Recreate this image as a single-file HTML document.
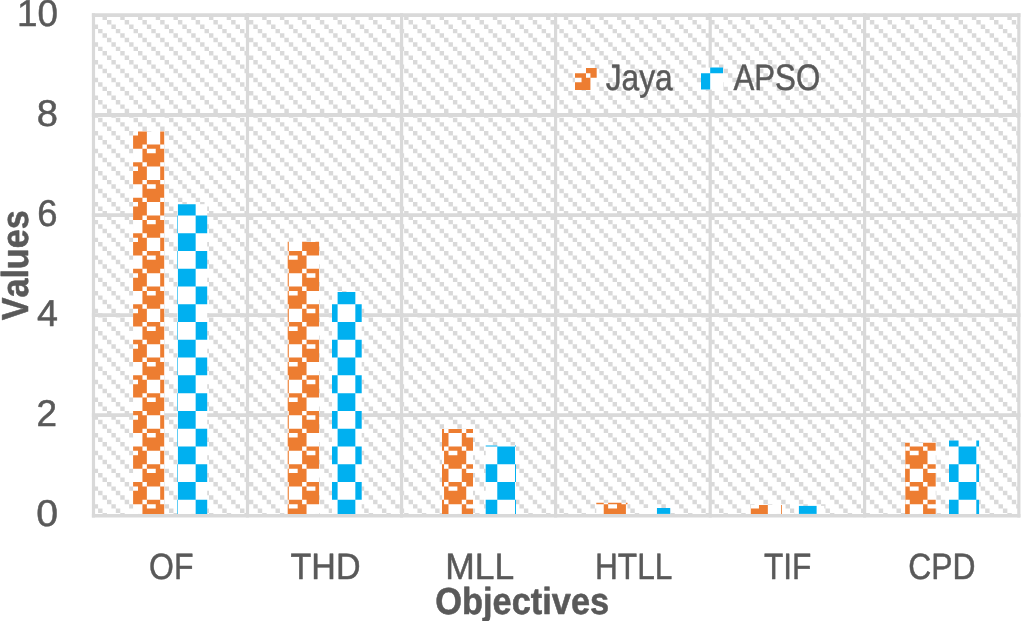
<!DOCTYPE html>
<html lang="en"><head><meta charset="utf-8"><title>Jaya vs APSO objectives chart</title>
<style>html,body{margin:0;padding:0;background:#fff;overflow:hidden}svg{display:block}text{font-family:"Liberation Sans",Arial,sans-serif;fill:#595959;font-kerning:none;text-rendering:geometricPrecision}</style></head><body>
<svg xmlns="http://www.w3.org/2000/svg" width="1023" height="621" viewBox="0 0 1023 621">
<rect width="1023" height="621" fill="#fff"/>
<defs><clipPath id="pc"><rect x="93.5" y="15.2" width="925.4" height="500.2"/></clipPath></defs>
<g clip-path="url(#pc)" stroke="#d9d9d9" stroke-width="4.442" stroke-dasharray="4.4355 13.3065" fill="none">
<path d="M58.161 8.895H1023M62.597 13.337H1023M67.032 17.779H1023M71.468 22.221H1023M58.161 26.663H1023M62.597 31.105H1023M67.032 35.547H1023M71.468 39.989H1023M58.161 44.431H1023M62.597 48.873H1023M67.032 53.315H1023M71.468 57.757H1023M58.161 62.199H1023M62.597 66.641H1023M67.032 71.083H1023M71.468 75.525H1023M58.161 79.967H1023M62.597 84.409H1023M67.032 88.851H1023M71.468 93.293H1023M58.161 97.735H1023M62.597 102.177H1023M67.032 106.619H1023M71.468 111.061H1023M58.161 115.503H1023M62.597 119.945H1023M67.032 124.387H1023M71.468 128.829H1023M58.161 133.271H1023M62.597 137.713H1023M67.032 142.155H1023M71.468 146.597H1023M58.161 151.039H1023M62.597 155.481H1023M67.032 159.923H1023M71.468 164.365H1023M58.161 168.807H1023M62.597 173.249H1023M67.032 177.691H1023M71.468 182.133H1023M58.161 186.575H1023M62.597 191.017H1023M67.032 195.459H1023M71.468 199.901H1023M58.161 204.343H1023M62.597 208.785H1023M67.032 213.227H1023M71.468 217.669H1023M58.161 222.111H1023M62.597 226.553H1023M67.032 230.995H1023M71.468 235.437H1023M58.161 239.879H1023M62.597 244.321H1023M67.032 248.763H1023M71.468 253.205H1023M58.161 257.647H1023M62.597 262.089H1023M67.032 266.531H1023M71.468 270.973H1023M58.161 275.415H1023M62.597 279.857H1023M67.032 284.299H1023M71.468 288.741H1023M58.161 293.183H1023M62.597 297.625H1023M67.032 302.067H1023M71.468 306.509H1023M58.161 310.951H1023M62.597 315.393H1023M67.032 319.835H1023M71.468 324.277H1023M58.161 328.719H1023M62.597 333.161H1023M67.032 337.603H1023M71.468 342.045H1023M58.161 346.487H1023M62.597 350.929H1023M67.032 355.371H1023M71.468 359.813H1023M58.161 364.255H1023M62.597 368.697H1023M67.032 373.139H1023M71.468 377.581H1023M58.161 382.023H1023M62.597 386.465H1023M67.032 390.907H1023M71.468 395.349H1023M58.161 399.791H1023M62.597 404.233H1023M67.032 408.675H1023M71.468 413.117H1023M58.161 417.559H1023M62.597 422.001H1023M67.032 426.443H1023M71.468 430.885H1023M58.161 435.327H1023M62.597 439.769H1023M67.032 444.211H1023M71.468 448.653H1023M58.161 453.095H1023M62.597 457.537H1023M67.032 461.979H1023M71.468 466.421H1023M58.161 470.863H1023M62.597 475.305H1023M67.032 479.747H1023M71.468 484.189H1023M58.161 488.631H1023M62.597 493.073H1023M67.032 497.515H1023M71.468 501.957H1023M58.161 506.399H1023M62.597 510.841H1023M67.032 515.283H1023M71.468 519.725H1023M58.161 524.167H1023"/>
</g>
<path d="M91.9 15.15H1020.45M91.9 115H1020.45M91.9 215.05H1020.45M91.9 315.05H1020.45M91.9 415.1H1020.45" stroke="#d9d9d9" stroke-width="3.8" fill="none"/>
<path d="M93.5 13.25V517.4M247.5 13.25V517.4M401.6 13.25V517.4M555.6 13.25V517.4M710.2 13.25V517.4M864.6 13.25V517.4M1018.85 13.25V517.4" stroke="#d9d9d9" stroke-width="3.2" fill="none"/>
<rect x="133.1" y="131.6" width="31.1" height="382.3" fill="#fff"/><path d="M138 131.6H142.44V144.38H138ZM133.1 135.49H138V144.38H133.1ZM133.1 144.38H142.44V148.82H133.1ZM142.44 131.6H146.87V144.38H142.44ZM160.18 131.6H164.2V144.38H160.18ZM146.87 144.38H160.18V148.82H146.87ZM142.44 148.82H146.87V162.14H142.44ZM155.74 148.82H164.2V162.14H155.74ZM146.87 153.26H155.74V162.14H146.87ZM133.1 162.14H142.44V166.59H133.1ZM138 166.59H142.44V179.91H138ZM133.1 171.03H138V179.91H133.1ZM133.1 179.91H142.44V184.35H133.1ZM146.87 162.14H160.18V166.59H146.87ZM142.44 166.59H146.87V179.91H142.44ZM160.18 166.59H164.2V179.91H160.18ZM146.87 179.91H160.18V184.35H146.87ZM142.44 184.35H146.87V197.68H142.44ZM155.74 184.35H164.2V197.68H155.74ZM146.87 188.8H155.74V197.68H146.87ZM133.1 197.68H142.44V202.12H133.1ZM138 202.12H142.44V215.45H138ZM133.1 206.56H138V215.45H133.1ZM133.1 215.45H142.44V219.89H133.1ZM146.87 197.68H160.18V202.12H146.87ZM142.44 202.12H146.87V215.45H142.44ZM160.18 202.12H164.2V215.45H160.18ZM146.87 215.45H160.18V219.89H146.87ZM142.44 219.89H146.87V233.22H142.44ZM155.74 219.89H164.2V233.22H155.74ZM146.87 224.33H155.74V233.22H146.87ZM133.1 233.22H142.44V237.66H133.1ZM138 237.66H142.44V250.98H138ZM133.1 242.1H138V250.98H133.1ZM133.1 250.98H142.44V255.43H133.1ZM146.87 233.22H160.18V237.66H146.87ZM142.44 237.66H146.87V250.98H142.44ZM160.18 237.66H164.2V250.98H160.18ZM146.87 250.98H160.18V255.43H146.87ZM142.44 255.43H146.87V268.75H142.44ZM155.74 255.43H164.2V268.75H155.74ZM146.87 259.87H155.74V268.75H146.87ZM133.1 268.75H142.44V273.19H133.1ZM138 273.19H142.44V286.52H138ZM133.1 277.64H138V286.52H133.1ZM133.1 286.52H142.44V290.96H133.1ZM146.87 268.75H160.18V273.19H146.87ZM142.44 273.19H146.87V286.52H142.44ZM160.18 273.19H164.2V286.52H160.18ZM146.87 286.52H160.18V290.96H146.87ZM142.44 290.96H146.87V304.29H142.44ZM155.74 290.96H164.2V304.29H155.74ZM146.87 295.4H155.74V304.29H146.87ZM133.1 304.29H142.44V308.73H133.1ZM138 308.73H142.44V322.06H138ZM133.1 313.17H138V322.06H133.1ZM133.1 322.06H142.44V326.5H133.1ZM146.87 304.29H160.18V308.73H146.87ZM142.44 308.73H146.87V322.06H142.44ZM160.18 308.73H164.2V322.06H160.18ZM146.87 322.06H160.18V326.5H146.87ZM142.44 326.5H146.87V339.82H142.44ZM155.74 326.5H164.2V339.82H155.74ZM146.87 330.94H155.74V339.82H146.87ZM133.1 339.82H142.44V344.27H133.1ZM138 344.27H142.44V357.59H138ZM133.1 348.71H138V357.59H133.1ZM133.1 357.59H142.44V362.03H133.1ZM146.87 339.82H160.18V344.27H146.87ZM142.44 344.27H146.87V357.59H142.44ZM160.18 344.27H164.2V357.59H160.18ZM146.87 357.59H160.18V362.03H146.87ZM142.44 362.03H146.87V375.36H142.44ZM155.74 362.03H164.2V375.36H155.74ZM146.87 366.48H155.74V375.36H146.87ZM133.1 375.36H142.44V379.8H133.1ZM138 379.8H142.44V393.13H138ZM133.1 384.24H138V393.13H133.1ZM133.1 393.13H142.44V397.57H133.1ZM146.87 375.36H160.18V379.8H146.87ZM142.44 379.8H146.87V393.13H142.44ZM160.18 379.8H164.2V393.13H160.18ZM146.87 393.13H160.18V397.57H146.87ZM142.44 397.57H146.87V410.9H142.44ZM155.74 397.57H164.2V410.9H155.74ZM146.87 402.01H155.74V410.9H146.87ZM133.1 410.9H142.44V415.34H133.1ZM138 415.34H142.44V428.66H138ZM133.1 419.78H138V428.66H133.1ZM133.1 428.66H142.44V433.11H133.1ZM146.87 410.9H160.18V415.34H146.87ZM142.44 415.34H146.87V428.66H142.44ZM160.18 415.34H164.2V428.66H160.18ZM146.87 428.66H160.18V433.11H146.87ZM142.44 433.11H146.87V446.43H142.44ZM155.74 433.11H164.2V446.43H155.74ZM146.87 437.55H155.74V446.43H146.87ZM133.1 446.43H142.44V450.87H133.1ZM138 450.87H142.44V464.2H138ZM133.1 455.32H138V464.2H133.1ZM133.1 464.2H142.44V468.64H133.1ZM146.87 446.43H160.18V450.87H146.87ZM142.44 450.87H146.87V464.2H142.44ZM160.18 450.87H164.2V464.2H160.18ZM146.87 464.2H160.18V468.64H146.87ZM142.44 468.64H146.87V481.97H142.44ZM155.74 468.64H164.2V481.97H155.74ZM146.87 473.08H155.74V481.97H146.87ZM133.1 481.97H142.44V486.41H133.1ZM138 486.41H142.44V499.74H138ZM133.1 490.85H138V499.74H133.1ZM133.1 499.74H142.44V504.18H133.1ZM146.87 481.97H160.18V486.41H146.87ZM142.44 486.41H146.87V499.74H142.44ZM160.18 486.41H164.2V499.74H160.18ZM146.87 499.74H160.18V504.18H146.87ZM142.44 504.18H146.87V513.9H142.44ZM155.74 504.18H164.2V513.9H155.74ZM146.87 508.62H155.74V513.9H146.87Z" fill="#ed7d31"/>
<rect x="177.3" y="204.2" width="29.9" height="309.7" fill="#fff"/><path d="M177.3 215.45H177.92V233.22H177.3ZM177.92 204.2H195.66V215.45H177.92ZM195.66 215.45H207.2V233.22H195.66ZM177.3 250.98H177.92V268.75H177.3ZM177.92 233.22H195.66V250.98H177.92ZM195.66 250.98H207.2V268.75H195.66ZM177.3 286.52H177.92V304.29H177.3ZM177.92 268.75H195.66V286.52H177.92ZM195.66 286.52H207.2V304.29H195.66ZM177.3 322.06H177.92V339.82H177.3ZM177.92 304.29H195.66V322.06H177.92ZM195.66 322.06H207.2V339.82H195.66ZM177.3 357.59H177.92V375.36H177.3ZM177.92 339.82H195.66V357.59H177.92ZM195.66 357.59H207.2V375.36H195.66ZM177.3 393.13H177.92V410.9H177.3ZM177.92 375.36H195.66V393.13H177.92ZM195.66 393.13H207.2V410.9H195.66ZM177.3 428.66H177.92V446.43H177.3ZM177.92 410.9H195.66V428.66H177.92ZM195.66 428.66H207.2V446.43H195.66ZM177.3 464.2H177.92V481.97H177.3ZM177.92 446.43H195.66V464.2H177.92ZM195.66 464.2H207.2V481.97H195.66ZM177.3 499.74H177.92V513.9H177.3ZM177.92 481.97H195.66V499.74H177.92ZM195.66 499.74H207.2V513.9H195.66Z" fill="#00b0f0"/>
<rect x="287.7" y="241.7" width="31.4" height="272.2" fill="#fff"/><path d="M287.7 241.7H288.81V250.98H287.7ZM302.11 241.7H306.55V250.98H302.11ZM315.42 241.7H319.1V250.98H315.42ZM306.55 242.1H315.42V250.98H306.55ZM288.81 250.98H302.11V255.43H288.81ZM306.55 250.98H319.1V255.43H306.55ZM287.7 255.43H288.81V268.75H287.7ZM297.68 255.43H306.55V268.75H297.68ZM288.81 259.87H297.68V268.75H288.81ZM288.81 268.75H302.11V273.19H288.81ZM306.55 268.75H319.1V273.19H306.55ZM287.7 273.19H288.81V286.52H287.7ZM302.11 273.19H306.55V286.52H302.11ZM315.42 273.19H319.1V286.52H315.42ZM306.55 277.64H315.42V286.52H306.55ZM288.81 286.52H302.11V290.96H288.81ZM306.55 286.52H319.1V290.96H306.55ZM287.7 290.96H288.81V304.29H287.7ZM297.68 290.96H306.55V304.29H297.68ZM288.81 295.4H297.68V304.29H288.81ZM288.81 304.29H302.11V308.73H288.81ZM306.55 304.29H319.1V308.73H306.55ZM287.7 308.73H288.81V322.06H287.7ZM302.11 308.73H306.55V322.06H302.11ZM315.42 308.73H319.1V322.06H315.42ZM306.55 313.17H315.42V322.06H306.55ZM288.81 322.06H302.11V326.5H288.81ZM306.55 322.06H319.1V326.5H306.55ZM287.7 326.5H288.81V339.82H287.7ZM297.68 326.5H306.55V339.82H297.68ZM288.81 330.94H297.68V339.82H288.81ZM288.81 339.82H302.11V344.27H288.81ZM306.55 339.82H319.1V344.27H306.55ZM287.7 344.27H288.81V357.59H287.7ZM302.11 344.27H306.55V357.59H302.11ZM315.42 344.27H319.1V357.59H315.42ZM306.55 348.71H315.42V357.59H306.55ZM288.81 357.59H302.11V362.03H288.81ZM306.55 357.59H319.1V362.03H306.55ZM287.7 362.03H288.81V375.36H287.7ZM297.68 362.03H306.55V375.36H297.68ZM288.81 366.48H297.68V375.36H288.81ZM288.81 375.36H302.11V379.8H288.81ZM306.55 375.36H319.1V379.8H306.55ZM287.7 379.8H288.81V393.13H287.7ZM302.11 379.8H306.55V393.13H302.11ZM315.42 379.8H319.1V393.13H315.42ZM306.55 384.24H315.42V393.13H306.55ZM288.81 393.13H302.11V397.57H288.81ZM306.55 393.13H319.1V397.57H306.55ZM287.7 397.57H288.81V410.9H287.7ZM297.68 397.57H306.55V410.9H297.68ZM288.81 402.01H297.68V410.9H288.81ZM288.81 410.9H302.11V415.34H288.81ZM306.55 410.9H319.1V415.34H306.55ZM287.7 415.34H288.81V428.66H287.7ZM302.11 415.34H306.55V428.66H302.11ZM315.42 415.34H319.1V428.66H315.42ZM306.55 419.78H315.42V428.66H306.55ZM288.81 428.66H302.11V433.11H288.81ZM306.55 428.66H319.1V433.11H306.55ZM287.7 433.11H288.81V446.43H287.7ZM297.68 433.11H306.55V446.43H297.68ZM288.81 437.55H297.68V446.43H288.81ZM288.81 446.43H302.11V450.87H288.81ZM306.55 446.43H319.1V450.87H306.55ZM287.7 450.87H288.81V464.2H287.7ZM302.11 450.87H306.55V464.2H302.11ZM315.42 450.87H319.1V464.2H315.42ZM306.55 455.32H315.42V464.2H306.55ZM288.81 464.2H302.11V468.64H288.81ZM306.55 464.2H319.1V468.64H306.55ZM287.7 468.64H288.81V481.97H287.7ZM297.68 468.64H306.55V481.97H297.68ZM288.81 473.08H297.68V481.97H288.81ZM288.81 481.97H302.11V486.41H288.81ZM306.55 481.97H319.1V486.41H306.55ZM287.7 486.41H288.81V499.74H287.7ZM302.11 486.41H306.55V499.74H302.11ZM315.42 486.41H319.1V499.74H315.42ZM306.55 490.85H315.42V499.74H306.55ZM288.81 499.74H302.11V504.18H288.81ZM306.55 499.74H319.1V504.18H306.55ZM287.7 504.18H288.81V513.9H287.7ZM297.68 504.18H306.55V513.9H297.68ZM288.81 508.62H297.68V513.9H288.81Z" fill="#ed7d31"/>
<rect x="332" y="292" width="29.7" height="221.9" fill="#fff"/><path d="M337.6 292H355.34V304.29H337.6ZM332 304.29H337.6V322.06H332ZM337.6 322.06H355.34V339.82H337.6ZM355.34 304.29H361.7V322.06H355.34ZM332 339.82H337.6V357.59H332ZM337.6 357.59H355.34V375.36H337.6ZM355.34 339.82H361.7V357.59H355.34ZM332 375.36H337.6V393.13H332ZM337.6 393.13H355.34V410.9H337.6ZM355.34 375.36H361.7V393.13H355.34ZM332 410.9H337.6V428.66H332ZM337.6 428.66H355.34V446.43H337.6ZM355.34 410.9H361.7V428.66H355.34ZM332 446.43H337.6V464.2H332ZM337.6 464.2H355.34V481.97H337.6ZM355.34 446.43H361.7V464.2H355.34ZM332 481.97H337.6V499.74H332ZM337.6 499.74H355.34V513.9H337.6ZM355.34 481.97H361.7V499.74H355.34Z" fill="#00b0f0"/>
<rect x="442" y="428.9" width="31" height="85" fill="#fff"/><path d="M442 428.9H444.05V433.11H442ZM448.49 428.9H461.79V433.11H448.49ZM442 433.11H448.49V446.43H442ZM466.23 428.9H473V433.11H466.23ZM461.79 433.11H466.23V446.43H461.79ZM466.23 437.55H473V446.43H466.23ZM442 446.43H444.05V450.87H442ZM448.49 446.43H461.79V450.87H448.49ZM444.05 450.87H448.49V464.2H444.05ZM457.36 450.87H461.79V464.2H457.36ZM448.49 455.32H457.36V464.2H448.49ZM442 464.2H444.05V468.64H442ZM448.49 464.2H461.79V468.64H448.49ZM442 468.64H448.49V481.97H442ZM466.23 446.43H473V450.87H466.23ZM461.79 450.87H466.23V464.2H461.79ZM466.23 464.2H473V468.64H466.23ZM461.79 468.64H466.23V481.97H461.79ZM466.23 473.08H473V481.97H466.23ZM442 481.97H444.05V486.41H442ZM448.49 481.97H461.79V486.41H448.49ZM444.05 486.41H448.49V499.74H444.05ZM457.36 486.41H461.79V499.74H457.36ZM448.49 490.85H457.36V499.74H448.49ZM442 499.74H444.05V504.18H442ZM448.49 499.74H461.79V504.18H448.49ZM442 504.18H448.49V513.9H442ZM466.23 481.97H473V486.41H466.23ZM461.79 486.41H466.23V499.74H461.79ZM466.23 499.74H473V504.18H466.23ZM461.79 504.18H466.23V513.9H461.79ZM466.23 508.62H473V513.9H466.23Z" fill="#ed7d31"/>
<rect x="485.7" y="445.4" width="30.3" height="68.5" fill="#fff"/><path d="M485.7 445.4H497.28V446.43H485.7ZM515.02 445.4H516V446.43H515.02ZM485.7 464.2H497.28V481.97H485.7ZM497.28 446.43H515.02V464.2H497.28ZM515.02 464.2H516V481.97H515.02ZM485.7 499.74H497.28V513.9H485.7ZM497.28 481.97H515.02V499.74H497.28ZM515.02 499.74H516V513.9H515.02Z" fill="#00b0f0"/>
<rect x="596.3" y="502.8" width="31.2" height="11.1" fill="#fff"/><path d="M596.3 502.8H603.73V504.18H596.3ZM608.16 502.8H621.47V504.18H608.16ZM625.91 502.8H627.5V504.18H625.91ZM603.73 504.18H608.16V513.9H603.73ZM617.03 504.18H625.91V513.9H617.03ZM608.16 508.62H617.03V513.9H608.16Z" fill="#ed7d31"/>
<rect x="640" y="508" width="30.2" height="5.9" fill="#fff"/><path d="M656.95 508H670.2V513.9H656.95Z" fill="#00b0f0"/>
<rect x="750.8" y="504.9" width="31.2" height="9" fill="#fff"/><path d="M758.97 504.9H767.84V513.9H758.97ZM750.8 508.62H758.97V513.9H750.8ZM781.15 504.9H782V513.9H781.15Z" fill="#ed7d31"/>
<rect x="794.4" y="505.9" width="29.9" height="8" fill="#fff"/><path d="M798.89 505.9H816.63V513.9H798.89Z" fill="#00b0f0"/>
<rect x="905.1" y="442.85" width="30.6" height="71.05" fill="#fff"/><path d="M905.1 442.85H909.78V446.43H905.1ZM923.08 442.85H927.52V446.43H923.08ZM927.52 442.85H935.7V446.43H927.52ZM905.1 446.43H905.34V450.87H905.1ZM909.78 446.43H923.08V450.87H909.78ZM905.34 450.87H909.78V464.2H905.34ZM918.65 450.87H923.08V464.2H918.65ZM909.78 455.32H918.65V464.2H909.78ZM905.1 464.2H905.34V468.64H905.1ZM909.78 464.2H923.08V468.64H909.78ZM905.1 468.64H909.78V481.97H905.1ZM927.52 446.43H935.7V450.87H927.52ZM923.08 450.87H927.52V464.2H923.08ZM927.52 464.2H935.7V468.64H927.52ZM923.08 468.64H927.52V481.97H923.08ZM927.52 473.08H935.7V481.97H927.52ZM905.1 481.97H905.34V486.41H905.1ZM909.78 481.97H923.08V486.41H909.78ZM905.34 486.41H909.78V499.74H905.34ZM918.65 486.41H923.08V499.74H918.65ZM909.78 490.85H918.65V499.74H909.78ZM905.1 499.74H905.34V504.18H905.1ZM909.78 499.74H923.08V504.18H909.78ZM905.1 504.18H909.78V513.9H905.1ZM927.52 481.97H935.7V486.41H927.52ZM923.08 486.41H927.52V499.74H923.08ZM927.52 499.74H935.7V504.18H927.52ZM923.08 504.18H927.52V513.9H923.08ZM927.52 508.62H935.7V513.9H927.52Z" fill="#ed7d31"/>
<rect x="949" y="440.5" width="30.1" height="73.4" fill="#fff"/><path d="M949 440.5H958.57V446.43H949ZM976.31 440.5H979.1V446.43H976.31ZM949 464.2H958.57V481.97H949ZM958.57 446.43H976.31V464.2H958.57ZM976.31 464.2H979.1V481.97H976.31ZM949 499.74H958.57V513.9H949ZM958.57 481.97H976.31V499.74H958.57ZM976.31 499.74H979.1V513.9H976.31Z" fill="#00b0f0"/>
<path d="M91.9 515.7H1020.45" stroke="#d9d9d9" stroke-width="3.4" fill="none"/>
<rect x="575" y="67.9" width="21.7" height="22.1" fill="#fff"/><path d="M585.99 67.9H590.42V73.3H585.99ZM590.42 67.9H596.7V73.3H590.42ZM575 73.3H585.99V77.75H575ZM590.42 73.3H596.7V77.75H590.42ZM581.55 77.75H590.42V90H581.55ZM575 82.19H581.55V90H575Z" fill="#ed7d31"/>
<rect x="701" y="67.6" width="22" height="22" fill="#fff"/><path d="M701 73.3H710.18V89.6H701ZM710.18 67.6H723V73.3H710.18Z" fill="#00b0f0"/>
<text transform="translate(16.94 26) scale(0.9870 1)" font-size="37.3" stroke="#595959" stroke-width="0.5" stroke-linejoin="round">10</text>
<text transform="translate(36.7 126) scale(1.0221 1)" font-size="37.3" stroke="#595959" stroke-width="0.5" stroke-linejoin="round">8</text>
<text transform="translate(37.29 226) scale(0.9768 1)" font-size="37.3" stroke="#595959" stroke-width="0.5" stroke-linejoin="round">6</text>
<text transform="translate(36.89 326) scale(1.0106 1)" font-size="37.3" stroke="#595959" stroke-width="0.5" stroke-linejoin="round">4</text>
<text transform="translate(36.49 426) scale(0.9890 1)" font-size="37.3" stroke="#595959" stroke-width="0.5" stroke-linejoin="round">2</text>
<text transform="translate(36.13 526) scale(1.0529 1)" font-size="37.3" stroke="#595959" stroke-width="0.5" stroke-linejoin="round">0</text>
<text transform="translate(149.11 579) scale(0.8727 1)" font-size="36.6" stroke="#595959" stroke-width="0.5" stroke-linejoin="round">OF</text>
<text transform="translate(290.57 579) scale(0.9310 1)" font-size="36.6" stroke="#595959" stroke-width="0.5" stroke-linejoin="round">THD</text>
<text transform="translate(445.23 579) scale(0.9692 1)" font-size="36.6" stroke="#595959" stroke-width="0.5" stroke-linejoin="round">MLL</text>
<text transform="translate(595.02 579) scale(0.8650 1)" font-size="36.6" stroke="#595959" stroke-width="0.5" stroke-linejoin="round">HTLL</text>
<text transform="translate(763.91 579) scale(0.8645 1)" font-size="36.6" stroke="#595959" stroke-width="0.5" stroke-linejoin="round">TIF</text>
<text transform="translate(908.2 579) scale(0.8697 1)" font-size="36.6" stroke="#595959" stroke-width="0.5" stroke-linejoin="round">CPD</text>
<text transform="translate(605.72 90) scale(0.8615 1)" font-size="36.8" stroke="#595959" stroke-width="0.5" stroke-linejoin="round">Jaya</text>
<text transform="translate(733.45 90) scale(0.8468 1)" font-size="36.9" stroke="#595959" stroke-width="0.5" stroke-linejoin="round">APSO</text>
<text transform="translate(435.24 614) scale(0.9150 1)" font-size="37.6" font-weight="bold" stroke="#595959" stroke-width="0.55" stroke-linejoin="round">Objectives</text>
<text transform="translate(28.2 320.3) rotate(-90) translate(0.02 0) scale(0.9068 1)" font-size="37.6" font-weight="bold" stroke="#595959" stroke-width="0.55" stroke-linejoin="round">Values</text>
</svg></body></html>
